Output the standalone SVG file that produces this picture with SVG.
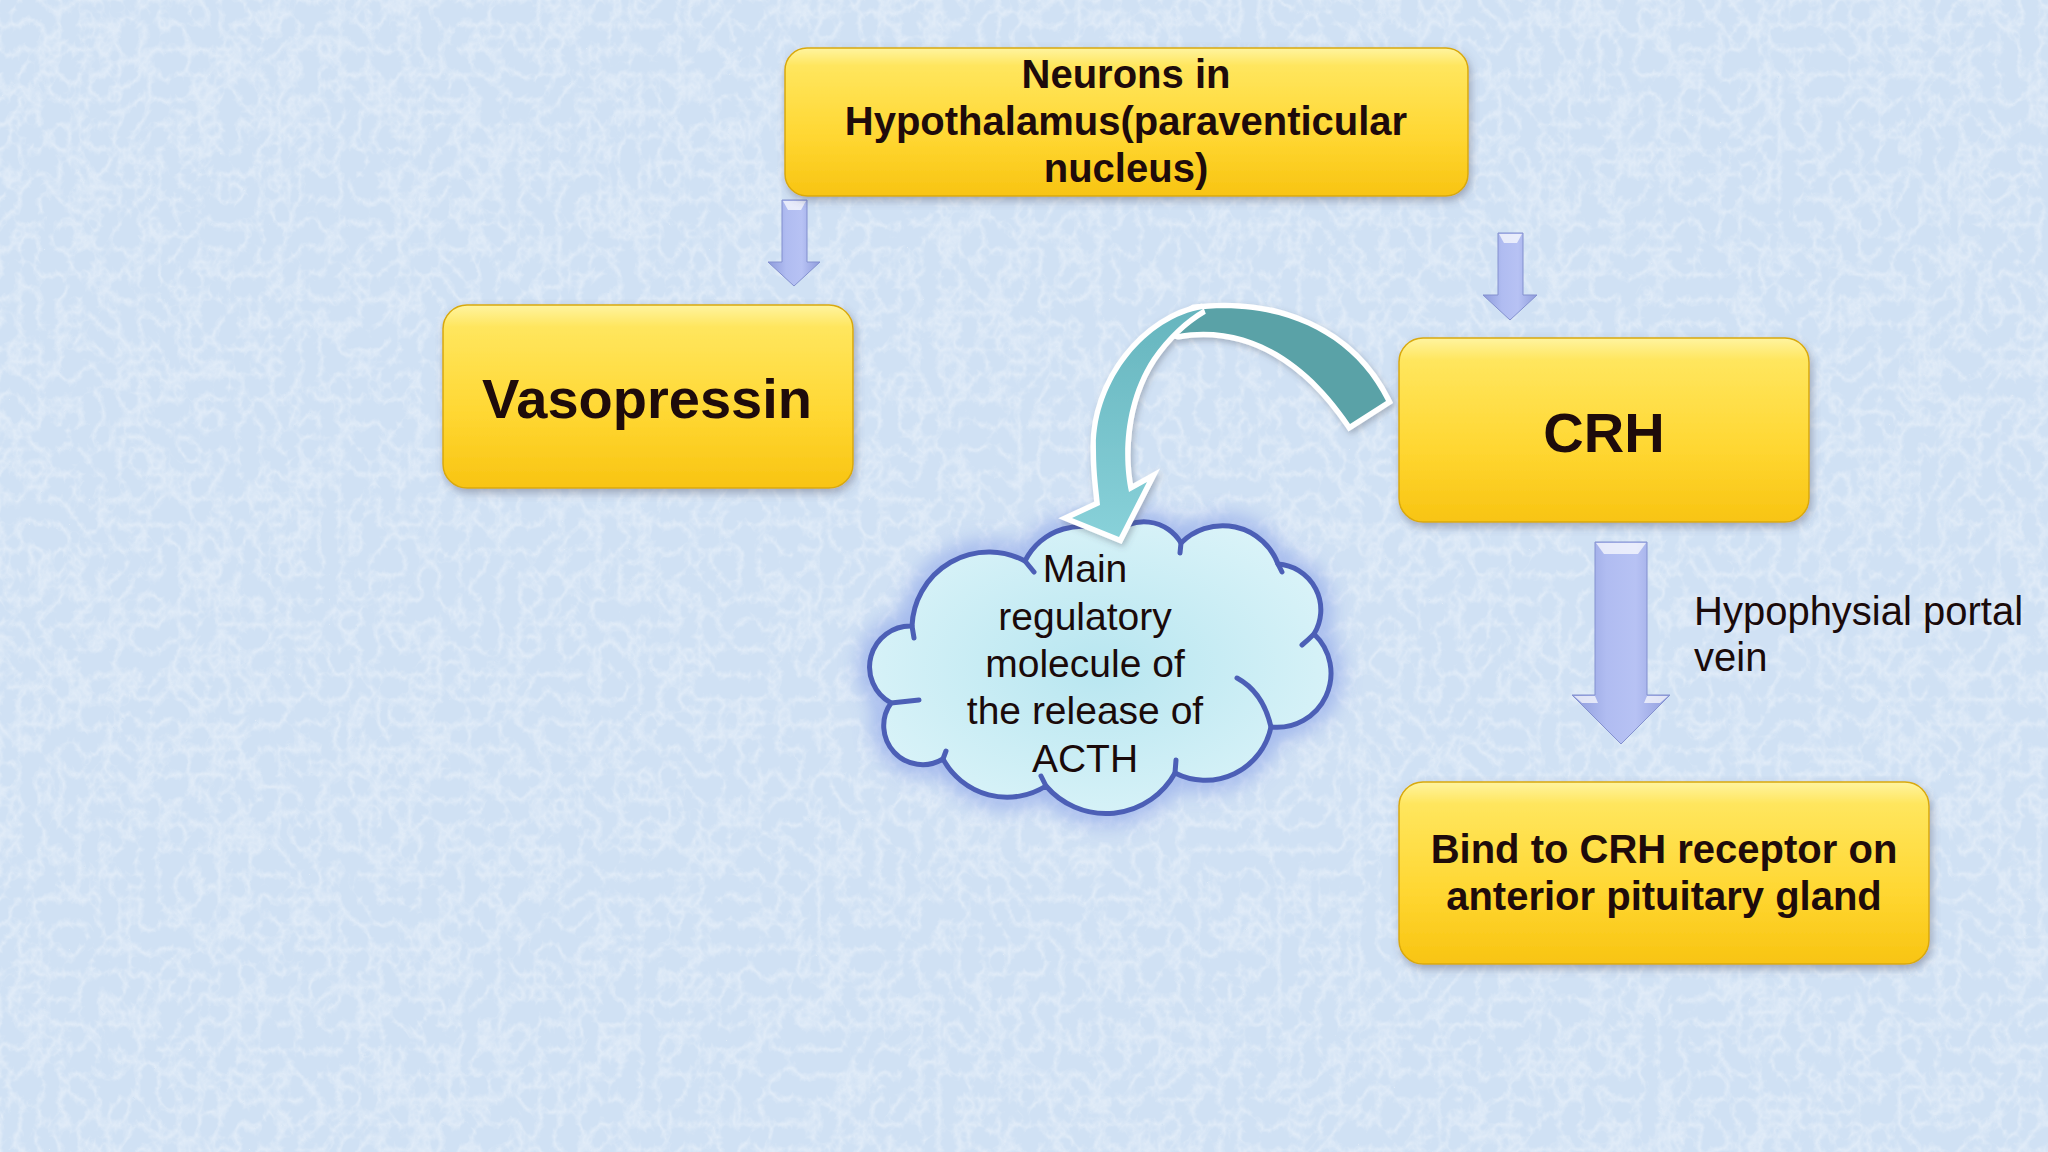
<svg xmlns="http://www.w3.org/2000/svg" width="2048" height="1152" viewBox="0 0 2048 1152">
<style>
.box{stroke:#d9a90c;stroke-width:1.5;filter:url(#sh)}
.bt{font-family:"Liberation Sans",Arial,sans-serif;font-weight:bold;fill:#1e0b0b;text-anchor:middle}
.rt{font-family:"Liberation Sans",Arial,sans-serif;fill:#1a0a0a}
.barrow{fill:url(#bg);stroke:#8390cf;stroke-width:1}
.hl{fill:#ffffff;opacity:0.7}
.cloud{fill:url(#cg);stroke:#4c5fb6;stroke-width:5;stroke-linejoin:round}
.stub{fill:none;stroke:#4c5fb6;stroke-width:5;stroke-linecap:round}
.teal{stroke:#ffffff;stroke-width:11;stroke-linejoin:miter;paint-order:stroke}
</style>
<defs>
<linearGradient id="yg" x1="0" y1="0" x2="0" y2="1">
<stop offset="0" stop-color="#fff4a0"/>
<stop offset="0.12" stop-color="#ffe65e"/>
<stop offset="0.6" stop-color="#ffd732"/>
<stop offset="1" stop-color="#f8c412"/>
</linearGradient>
<linearGradient id="bg" x1="0" y1="0" x2="1" y2="0">
<stop offset="0" stop-color="#8d9bdb"/>
<stop offset="0.35" stop-color="#b0bcf1"/>
<stop offset="0.65" stop-color="#b7c2f4"/>
<stop offset="1" stop-color="#8f9cdc"/>
</linearGradient>
<radialGradient id="cg" cx="0.5" cy="0.5" r="0.6">
<stop offset="0" stop-color="#b8e6f0"/>
<stop offset="1" stop-color="#dcf4f9"/>
</radialGradient>
<linearGradient id="lt" x1="0" y1="0" x2="0" y2="1">
<stop offset="0" stop-color="#66b5be"/>
<stop offset="1" stop-color="#88d1d9"/>
</linearGradient>
<filter id="sh" x="-10%" y="-10%" width="120%" height="130%">
<feDropShadow dx="2" dy="4" stdDeviation="4" flood-color="#4a4a60" flood-opacity="0.4"/>
</filter>
<filter id="ash" x="-20%" y="-20%" width="140%" height="140%">
<feDropShadow dx="2" dy="3" stdDeviation="3" flood-color="#4a5060" flood-opacity="0.35"/>
</filter>
<filter id="glow" x="-20%" y="-20%" width="140%" height="140%">
<feGaussianBlur stdDeviation="10"/>
</filter>
<filter id="tex" x="0" y="0" width="100%" height="100%">
<feTurbulence type="turbulence" baseFrequency="0.05 0.04" numOctaves="3" seed="11" result="n"/>
<feColorMatrix in="n" type="matrix" values="0 0 0 0 1  0 0 0 0 1  0 0 0 0 1  -3 0 0 0 1.1"/>
</filter>
</defs>

<rect width="2048" height="1152" fill="#d0e1f4"/>
<rect width="2048" height="1152" fill="#fff" filter="url(#tex)" opacity="0.35"/>

<g id="cloud">
<path d="M1113,535 A43,43 0 0 1 1181,543 A59,59 0 0 1 1278,564 A46,46 0 0 1 1314,634 A54,54 0 0 1 1271,727 A67,67 0 0 1 1175,773 A79,79 0 0 1 1046,786 A73,73 0 0 1 943,759 A39,39 0 0 1 891,703 A41,41 0 0 1 912,626 A77,77 0 0 1 1025,561 A63,63 0 0 1 1113,535 Z" fill="none" stroke="#93aaea" stroke-width="22" filter="url(#glow)" opacity="0.8"/>
<path class="cloud" d="M1113,535 A43,43 0 0 1 1181,543 A59,59 0 0 1 1278,564 A46,46 0 0 1 1314,634 A54,54 0 0 1 1271,727 A67,67 0 0 1 1175,773 A79,79 0 0 1 1046,786 A73,73 0 0 1 943,759 A39,39 0 0 1 891,703 A41,41 0 0 1 912,626 A77,77 0 0 1 1025,561 A63,63 0 0 1 1113,535 Z"/>
<path class="stub" d="M1181,543 l-1,10 M1278,564 l4,8 M1314,634 q-6,6 -12,11 M1271,727 Q1263,692 1237,678 M1175,773 l1,-13 M1046,786 l-5,-10 M943,759 l3,-8 M891,703 l28,-3 M912,626 l2,12 M1025,561 l9,11"/>
<text class="rt" font-size="39" text-anchor="middle"><tspan x="1085" y="582">Main</tspan><tspan x="1085" y="630">regulatory</tspan><tspan x="1085" y="677">molecule of</tspan><tspan x="1085" y="724">the release of</tspan><tspan x="1085" y="772">ACTH</tspan></text>
</g>

<g id="connectors">
<g id="arrow-left">
<path class="barrow" d="M782,200 L807,200 L807,262 L820,262 L794,286 L768,262 L782,262 Z"/>
<path class="hl" d="M783,201 L806,201 L801,210 L788,210 Z"/>
</g>
<g id="arrow-right">
<path class="barrow" d="M1498,233 L1523,233 L1523,295 L1537,295 L1510,320 L1483,295 L1498,295 Z"/>
<path class="hl" d="M1499,234 L1522,234 L1517,243 L1504,243 Z"/>
</g>
<g id="arrow-portal">
<path class="barrow" d="M1595,542 L1647,542 L1647,695 L1670,695 L1621,744 L1572,695 L1595,695 Z"/>
<path class="hl" d="M1596,543 L1646,543 L1638,554 L1604,554 Z"/>
<path class="hl" d="M1574,696 L1595,696 L1598,703 L1582,703 Z" opacity="0.5"/>
<path class="hl" d="M1668,696 L1647,696 L1644,703 L1660,703 Z" opacity="0.5"/>
</g>
<g id="arrow-curved" filter="url(#ash)">
<path class="teal" d="M1350,424 L1386,401 C1352,332 1278,300 1194,310 L1162,330 L1178,334 C1250,322 1308,362 1350,424 Z" fill="#5aa2a7"/>
<path class="teal" d="M1203,309 C1146,318 1094,382 1096,450 C1096,475 1099,492 1100,505 L1072,518 L1119,537 L1147,482 L1129,492 C1122,460 1122,404 1152,358 C1167,336 1186,319 1203,309 Z" fill="url(#lt)"/>
</g>
</g>

<g id="node-hypothalamus">
<rect class="box" x="785" y="48" width="683" height="148" rx="22" fill="url(#yg)"/>
<text class="bt" font-size="40"><tspan x="1126" y="88">Neurons in</tspan><tspan x="1126" y="135">Hypothalamus(paraventicular</tspan><tspan x="1126" y="182">nucleus)</tspan></text>
</g>

<g id="node-vasopressin">
<rect class="box" x="443" y="305" width="410" height="183" rx="24" fill="url(#yg)"/>
<text class="bt" x="647" y="418" font-size="56">Vasopressin</text>
</g>

<g id="node-crh">
<rect class="box" x="1399" y="338" width="410" height="184" rx="24" fill="url(#yg)"/>
<text class="bt" x="1604" y="452" font-size="56">CRH</text>
</g>

<g id="node-bind">
<rect class="box" x="1399" y="782" width="530" height="182" rx="24" fill="url(#yg)"/>
<text class="bt" font-size="40"><tspan x="1664" y="863">Bind to CRH receptor on</tspan><tspan x="1664" y="910">anterior pituitary gland</tspan></text>
</g>

<g id="label-portal">
<text class="rt" font-size="40"><tspan x="1694" y="625">Hypophysial portal</tspan><tspan x="1694" y="671">vein</tspan></text>
</g>
</svg>
